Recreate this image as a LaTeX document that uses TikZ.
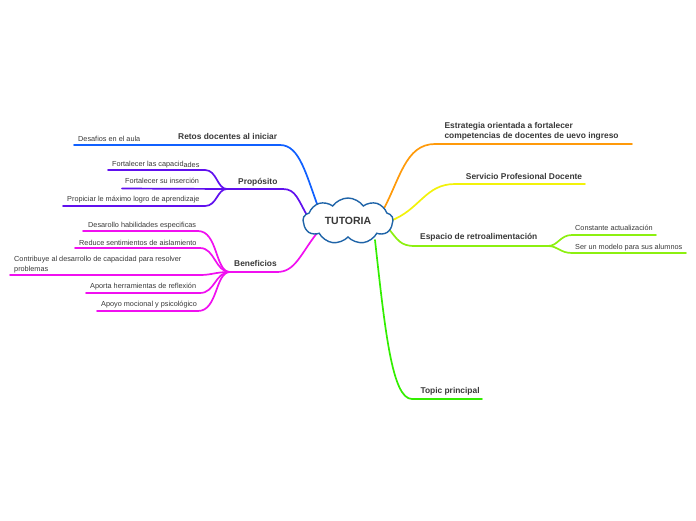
\documentclass[tikz,border=0pt]{standalone}
\usepackage{fontspec}
\setmainfont{Liberation Sans}
\usetikzlibrary{shapes.symbols}
\pgfdeclarelayer{bg}\pgfsetlayers{bg,main}
\definecolor{cblue}{HTML}{1060FF}
\definecolor{cpurple}{HTML}{6010EE}
\definecolor{cmag}{HTML}{F010F0}
\definecolor{corange}{HTML}{FF9A0A}
\definecolor{cyellow}{HTML}{F2F20A}
\definecolor{clime}{HTML}{8CF010}
\definecolor{cgreen}{HTML}{33EE00}
\definecolor{ccloud}{HTML}{1F64A8}
\definecolor{txt}{HTML}{383838}
\begin{document}
\begin{tikzpicture}[x=1pt,y=-1pt,
  br/.style={line width=1.7pt, line cap=round},
  lbl/.style={anchor=base west, inner sep=0, text=txt, font=\fontsize{8.4}{10.4}\selectfont\bfseries},
  sub/.style={anchor=base west, inner sep=0, text=txt, font=\fontsize{7.3}{9.7}\selectfont},
  rootbox/.style={cloud, cloud puffs=9, cloud puff arc=110, aspect=2, draw=ccloud, line width=1.4pt, fill=white,
    minimum width=90pt, minimum height=46pt, inner sep=0, text=txt, font=\fontsize{10.5}{12}\selectfont\bfseries}]
\useasboundingbox (0,0) rectangle (696,520);

\node[rootbox] (root) at (348,221) {TUTORIA};

% labels
\node[lbl] (retos) at (178,139.5) {Retos docentes al iniciar};
\node[sub] (desafios) at (78,141) {Desafios en el aula};
\node[lbl] (proposito) at (238,184) {Propósito};
\node[sub] (fort1) at (112,166) {Fortalecer las capacid\raisebox{-1.2pt}{ades}};
\node[sub] (fort2) at (125,183.7) {Fortalecer su inserción};
\node[sub] (prop) at (67,201.3) {Propiciar le máximo logro de aprendizaje};
\node[lbl] (benef) at (234,266.7) {Beneficios};
\node[sub] (des) at (88,227.7) {Desarollo habilidades especificas};
\node[sub] (red) at (79,245.7) {Reduce sentimientos de aislamiento};
\node[sub, anchor=north west, align=left] (contr) at (14,256.3) {Contribuye al desarrollo de capacidad para resolver\\problemas};
\node[sub] (apo) at (90,288.7) {Aporta herramientas de reflexión};
\node[sub] (apy) at (101,306.7) {Apoyo mocional y psicológico};
\node[lbl, anchor=north west, align=left] (estr) at (444.3,122) {Estrategia orientada a fortalecer\\competencias de docentes de uevo ingreso};
\node[lbl] (serv) at (465.7,179) {Servicio Profesional Docente};
\node[lbl] (esp) at (420,239.3) {Espacio de retroalimentación};
\node[sub] (const) at (575,230) {Constante actualización};
\node[sub] (ser) at (575,249) {Ser un modelo para sus alumnos};
\node[lbl] (topic) at (420.3,393.3) {Topic principal};

% connector points
\coordinate (rB) at (320,212);
\coordinate (bB) at (280,145);
\coordinate (eB) at (74,145);
\coordinate (rP) at (308,217);
\coordinate (bP) at (283,189);
\coordinate (jP) at (227,189);
\coordinate (bP1) at (205,170); \coordinate (eP1) at (108,170);
\coordinate (eP2) at (122,188.5);
\coordinate (bP3) at (205,206); \coordinate (eP3) at (63,206);
\coordinate (rM) at (317,233);
\coordinate (bM) at (277,272);
\coordinate (jM) at (230,272);
\coordinate (bM1) at (198,231); \coordinate (eM1) at (83,231);
\coordinate (bM2) at (200,248); \coordinate (eM2) at (75,248);
\coordinate (bM3) at (200,275); \coordinate (eM3) at (10,275);
\coordinate (bM4) at (200,293); \coordinate (eM4) at (86,293);
\coordinate (bM5) at (198,311); \coordinate (eM5) at (97,311);
\coordinate (rO) at (382,212);
\coordinate (bO) at (435,144); \coordinate (eO) at (632,144);
\coordinate (rY) at (390,221);
\coordinate (bY) at (455,184); \coordinate (eY) at (585,184);
\coordinate (rL) at (388,228);
\coordinate (bL) at (415,246); \coordinate (jL) at (548,246);
\coordinate (bL1) at (572,235); \coordinate (eL1) at (656,235);
\coordinate (bL2) at (572,253); \coordinate (eL2) at (686,253);
\coordinate (rG) at (375,240);
\coordinate (bG) at (412,399); \coordinate (eG) at (482,399);

\begin{pgfonlayer}{bg}
\draw[br,cblue] (rB) .. controls (306,175) and (300,145) .. (bB) -- (eB);
\draw[br,cpurple] (rP) .. controls (298,200) and (296,189) .. (bP) -- (jP);
\draw[br,cpurple] (jP) .. controls (217,189) and (217,170) .. (bP1) -- (eP1);
\draw[br,cpurple] (jP) -- (eP2);
\draw[br,cpurple] (jP) .. controls (217,189) and (217,206) .. (bP3) -- (eP3);
\draw[br,cmag] (rM) .. controls (300,255) and (295,272) .. (bM) -- (jM);
\draw[br,cmag] (jM) .. controls (215,272) and (218,231) .. (bM1) -- (eM1);
\draw[br,cmag] (jM) .. controls (215,272) and (215,248) .. (bM2) -- (eM2);
\draw[br,cmag] (jM) .. controls (215,272) and (212,275) .. (bM3) -- (eM3);
\draw[br,cmag] (jM) .. controls (215,272) and (215,293) .. (bM4) -- (eM4);
\draw[br,cmag] (jM) .. controls (215,272) and (218,311) .. (bM5) -- (eM5);
\draw[br,corange] (rO) .. controls (400,180) and (405,144) .. (bO) -- (eO);
\draw[br,cyellow] (rY) .. controls (420,210) and (425,184) .. (bY) -- (eY);
\draw[br,clime] (rL) .. controls (398,240) and (400,246) .. (bL) -- (jL);
\draw[br,clime] (jL) .. controls (558,246) and (560,235) .. (bL1) -- (eL1);
\draw[br,clime] (jL) .. controls (558,246) and (560,253) .. (bL2) -- (eL2);
\draw[br,cgreen] (rG) .. controls (385,330) and (392,399) .. (bG) -- (eG);
\end{pgfonlayer}
\end{tikzpicture}
\end{document}
